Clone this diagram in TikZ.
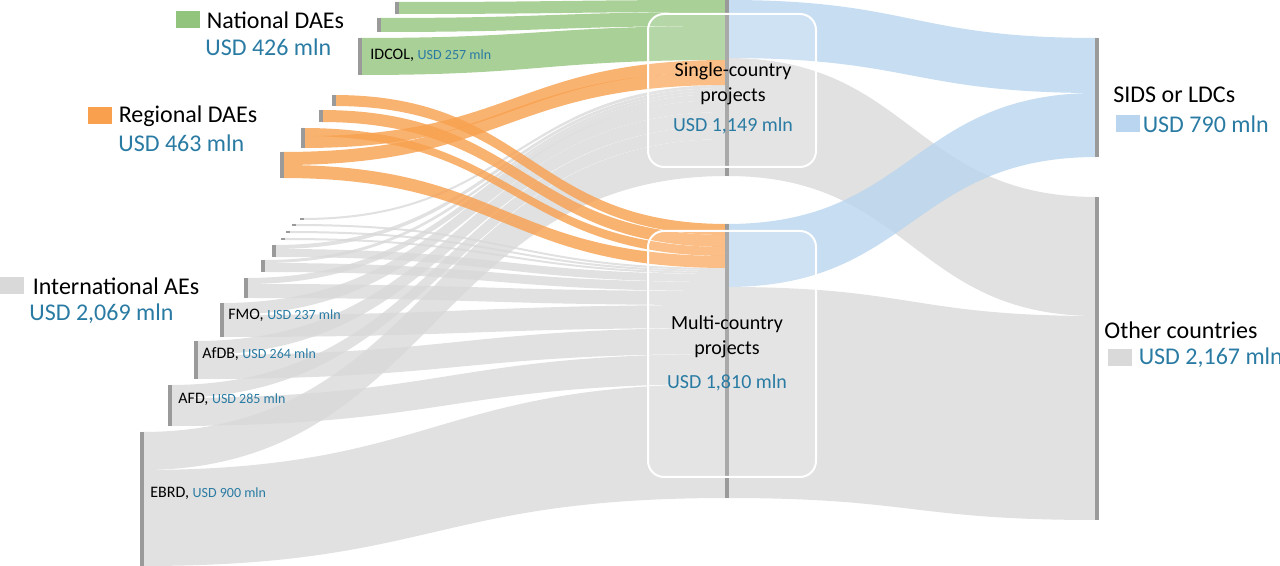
\documentclass[tikz,border=0pt]{standalone}
\usepackage{fontspec}
\setmainfont{Carlito}
\usetikzlibrary{positioning}

\definecolor{natgreen}{HTML}{93C47D}
\definecolor{regorange}{HTML}{F8A04E}
\definecolor{intgray}{HTML}{D9D9D9}
\definecolor{sidsblue}{HTML}{B9D5EF}
\definecolor{bargray}{HTML}{9A9A9A}
\definecolor{usdblue}{HTML}{2A7BA3}

% ribbon from (x1, ya..yb) to (x2, yc..yd)
\newcommand{\flow}[7]{%
  \fill[#7, fill opacity=0.8] (#1,#2) .. controls ({(#1+#4)/2},#2) and ({(#1+#4)/2},#5) .. (#4,#5)
    -- (#4,#6) .. controls ({(#1+#4)/2},#6) and ({(#1+#4)/2},#3) .. (#1,#3) -- cycle;}
\newcommand{\nodebar}[3]{\fill[bargray] (#1-2,#2) rectangle (#1+2,#3);}

\begin{document}
\begin{tikzpicture}[x=0.5pt, y=-0.5pt,
    big/.style={font=\fontsize{12}{13}\selectfont, inner sep=0pt},
    mid/.style={font=\fontsize{10}{12.5}\selectfont, align=center, inner sep=0pt},
    usd/.style={text=usdblue},
    small/.style={font=\fontsize{8}{9}\selectfont, anchor=west, inner sep=0pt},
    legend/.style={minimum width=12pt, minimum height=8.5pt, inner sep=0pt}]
  \useasboundingbox (0,0) rectangle (1280,566);

  % middle to right
  \flow{727}{0}{58}{1097}{38}{93}{sidsblue}
  \flow{727}{58}{176}{1097}{197}{316}{intgray}
  \flow{727}{224}{287}{1097}{93}{157}{sidsblue}
  \flow{727}{287}{498}{1097}{316}{520}{intgray}

  % national DAEs
  \flow{397}{2}{14}{727}{0}{12}{natgreen}
  \flow{379}{18}{32}{727}{12}{26}{natgreen}
  \flow{360}{38}{75}{727}{26}{60}{natgreen}

  % international AEs
  \flow{302}{218}{220}{727}{85}{88}{intgray}
  \flow{274}{245}{249}{727}{88}{91}{intgray}
  \flow{263}{260}{263}{727}{91}{94}{intgray}
  \flow{246}{278}{284}{727}{94}{100}{intgray}
  \flow{222}{303}{315}{727}{100}{112}{intgray}
  \flow{196}{341}{355}{727}{112}{126}{intgray}
  \flow{170}{385}{398}{727}{126}{139}{intgray}
  \flow{142}{432}{470}{727}{139}{176}{intgray}
  \flow{294}{224}{226}{727}{268}{270}{intgray}
  \flow{288}{231}{233}{727}{270}{272}{intgray}
  \flow{283}{238}{240}{727}{272}{274}{intgray}
  \flow{274}{249}{257}{727}{274}{282}{intgray}
  \flow{263}{263}{272}{727}{282}{291}{intgray}
  \flow{246}{284}{298}{727}{291}{305}{intgray}
  \flow{222}{315}{337}{727}{305}{328}{intgray}
  \flow{196}{355}{379}{727}{328}{354}{intgray}
  \flow{170}{398}{426}{727}{354}{384}{intgray}
  \flow{142}{470}{566}{727}{384}{498}{intgray}

  % regional DAEs
  \flow{334}{95}{106}{727}{224}{235}{regorange}
  \flow{321}{110}{122}{727}{235}{247}{regorange}
  \flow{303}{128}{136}{727}{247}{256}{regorange}
  \flow{303}{136}{148}{727}{60}{72}{regorange}
  \flow{282}{152}{165}{727}{72}{85}{regorange}
  \flow{282}{165}{178}{727}{256}{268}{regorange}

  % bars
  \nodebar{397}{2}{14} \nodebar{379}{18}{32} \nodebar{360}{38}{75}
  \nodebar{334}{95}{106} \nodebar{321}{110}{122} \nodebar{303}{128}{148} \nodebar{282}{152}{178}
  \nodebar{302}{218}{220} \nodebar{294}{224}{226} \nodebar{288}{231}{233} \nodebar{283}{238}{240}
  \nodebar{274}{245}{257} \nodebar{263}{260}{272} \nodebar{246}{278}{298} \nodebar{222}{303}{337}
  \nodebar{196}{341}{379} \nodebar{170}{385}{426} \nodebar{142}{432}{566}
  \nodebar{727}{0}{176} \nodebar{727}{224}{498}
  \nodebar{1097}{38}{157} \nodebar{1097}{197}{520}

  % project boxes
  \draw[white, line width=1pt, fill=white, fill opacity=0.15, rounded corners=8pt]
    (648,14) rectangle (816,167);
  \draw[white, line width=1pt, fill=white, fill opacity=0.15, rounded corners=8pt]
    (648,231) rectangle (816,477);

  % labels
  \node[legend, fill=natgreen] (natsq) at (188,20) {};
  \node[big, anchor=west, right=3pt of natsq] (nat) {National DAEs};
  \node[big, usd, anchor=north west] (natusd) at (205,38) {USD 426 mln};
  \node[legend, fill=regorange] (regsq) at (100,116) {};
  \node[big, anchor=west, right=3pt of regsq] (reg) {Regional DAEs};
  \node[big, usd, anchor=north west] (regusd) at (118,134) {USD 463 mln};
  \node[legend, fill=intgray] (intsq) at (12,286) {};
  \node[big, anchor=west, right=4pt of intsq] (int) {International AEs};
  \node[big, usd, anchor=north west] (intusd) at (29,303) {USD 2,069 mln};

  \node[small] (idcol) at (370,55) {IDCOL, {\fontsize{7}{8}\selectfont\color{usdblue}USD 257 mln}};
  \node[small] (fmo) at (228,315) {FMO, {\fontsize{7}{8}\selectfont\color{usdblue}USD 237 mln}};
  \node[small] (afdb) at (202,354) {AfDB, {\fontsize{7}{8}\selectfont\color{usdblue}USD 264 mln}};
  \node[small] (afd) at (178,399) {AFD, {\fontsize{7}{8}\selectfont\color{usdblue}USD 285 mln}};
  \node[small] (ebrd) at (150,493) {EBRD, {\fontsize{7}{8}\selectfont\color{usdblue}USD 900 mln}};

  \node[mid] (single) at (733,84) {Single-country\\projects};
  \node[mid, usd] (singleusd) at (733,126) {USD 1,149 mln};
  \node[mid] (multi) at (727,337) {Multi-country\\projects};
  \node[mid, usd] (multiusd) at (727,383) {USD 1,810 mln};

  \node[big, anchor=west] (sids) at (1113,95) {SIDS or LDCs};
  \node[legend, fill=sidsblue] (sidssq) at (1128,124) {};
  \node[big, usd, anchor=west, right=1pt of sidssq] (sidsusd) {USD 790 mln};
  \node[big, anchor=west] (other) at (1104,330) {Other countries};
  \node[legend, fill=intgray] (othersq) at (1120,358) {};
  \node[big, usd, anchor=west, right=3pt of othersq] (otherusd) {USD 2,167 mln};
\end{tikzpicture}
\end{document}
